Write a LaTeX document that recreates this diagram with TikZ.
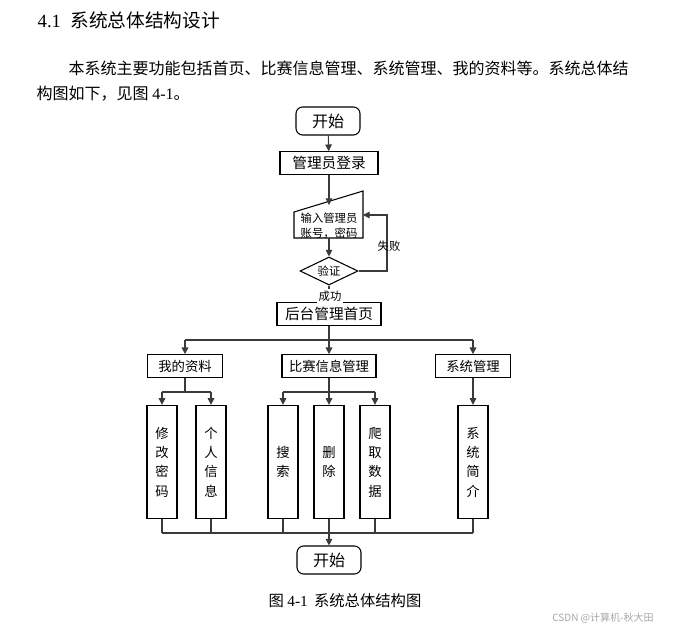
\documentclass[tikz,border=0pt]{standalone}
\usepackage{fontspec}
\setmainfont{Liberation Serif}
\newfontfamily\cjk{Noto Sans CJK SC}
\usetikzlibrary{shapes.geometric,arrows.meta}
\definecolor{ln}{HTML}{3A3A3A}
\begin{document}
\begin{tikzpicture}[x=0.75pt,y=-0.75pt,
  box/.style={draw=black,thick,inner sep=0pt,font=\cjk\fontsize{11}{12}\selectfont},
  vbox/.style={box,minimum width=22.5pt,minimum height=85pt,align=center,font=\cjk\fontsize{10}{14.5}\selectfont},
  hbox/.style={box,minimum height=17pt},
  term/.style={box,rounded corners=5pt,minimum width=48pt,minimum height=21pt,font=\cjk\fontsize{12}{13}\selectfont},
  arr/.style={draw=ln,thick,-{Triangle[length=5pt,width=5pt]}},
  lnk/.style={draw=ln,thick}]
\useasboundingbox (0,0) rectangle (676,632);
\node[anchor=west,font=\fontsize{14}{16}\selectfont] (title) at (33,20) {4.1\hspace{0.5em}{\cjk 系统总体结构设计}};
\node[anchor=west,font=\cjk\fontsize{12}{14}\selectfont] (p1) at (64,68) {本系统主要功能包括首页、比赛信息管理、系统管理、我的资料等。系统总体结};
\node[anchor=west,font=\cjk\fontsize{12}{14}\selectfont] (p2) at (32,94) {构图如下，见图 {\rmfamily 4-1}。};
\node[term] (start) at (328,121) {开始};
\node[hbox,minimum width=73.5pt] (login) at (329,163) {管理员登录};
\draw[thick] (294,212) -- (363,191) -- (363,238) -- (294,238) -- cycle;
\node[font=\cjk\fontsize{8.5}{11}\selectfont,align=left] (inp) at (329,226) {输入管理员\\账号，密码};
\coordinate (inTop) at (329,205);
\coordinate (inBot) at (329,238);
\coordinate (inR) at (363,215);
\node[draw,thick,diamond,aspect=2.1,inner sep=0pt,minimum width=43.5pt,minimum height=21pt,font=\cjk\fontsize{8.5}{10}\selectfont] (ver) at (329,271) {验证};
\node[hbox,minimum width=78pt] (home) at (329,314) {后台管理首页};
\path[arr] (start) -- (login);
\path[arr] (login) -- (inTop);
\path[arr] (inBot) -- (ver.north);
\path[arr] (ver.east) -- (387,271) |- (inR);
\node[font=\cjk\fontsize{8.5}{10}\selectfont] (fail) at (389,246) {失败};
\path[lnk] (ver.south) -- (home.north);
\node[font=\cjk\fontsize{8.5}{10}\selectfont,fill=white,inner sep=1pt] (ok) at (330,296) {成功};
\node[hbox,minimum width=56pt,font=\cjk\fontsize{10}{12}\selectfont] (my) at (185,366) {我的资料};
\node[hbox,minimum width=70.5pt,font=\cjk\fontsize{10}{12}\selectfont] (match) at (329,366) {比赛信息管理};
\node[hbox,minimum width=56pt,font=\cjk\fontsize{10}{12}\selectfont] (sys) at (473,366) {系统管理};
\path[lnk] (home.south) -- (329,340);
\path[lnk] (185,340) -- (473,340);
\path[arr] (185,340) -- (my.north);
\path[arr] (329,340) -- (match.north);
\path[arr] (473,340) -- (sys.north);
\node[vbox] (c1) at (162,462) {修\\改\\密\\码};
\node[vbox] (c2) at (211,462) {个\\人\\信\\息};
\node[vbox] (c3) at (283,462) {搜\\索};
\node[vbox] (c4) at (329,462) {删\\除};
\node[vbox] (c5) at (375,462) {爬\\取\\数\\据};
\node[vbox] (c6) at (473,462) {系\\统\\简\\介};
\path[lnk] (my.south) -- (185,392) (162,392) -- (211,392);
\path[arr] (162,392) -- (c1.north);
\path[arr] (211,392) -- (c2.north);
\path[lnk] (match.south) -- (329,392) (283,392) -- (375,392);
\path[arr] (283,392) -- (c3.north);
\path[arr] (329,392) -- (c4.north);
\path[arr] (375,392) -- (c5.north);
\path[arr] (sys.south) -- (c6.north);
\node[term] (end) at (329,560) {开始};
\foreach \c in {c1,c2,c3,c4,c5,c6} \path[lnk] (\c.south) -- (\c.south |- 0,533);
\path[lnk] (162,533) -- (473,533);
\path[arr] (329,533) -- (end.north);
\node[font=\cjk\fontsize{11.5}{13}\selectfont] (cap) at (345,601) {图 {\rmfamily 4-1}\hspace{0.4em}系统总体结构图};
\node[font=\cjk\fontsize{7.5}{9}\selectfont,text=gray!70] (wm) at (603,618) {CSDN @计算机-秋大田};
\end{tikzpicture}
\end{document}
